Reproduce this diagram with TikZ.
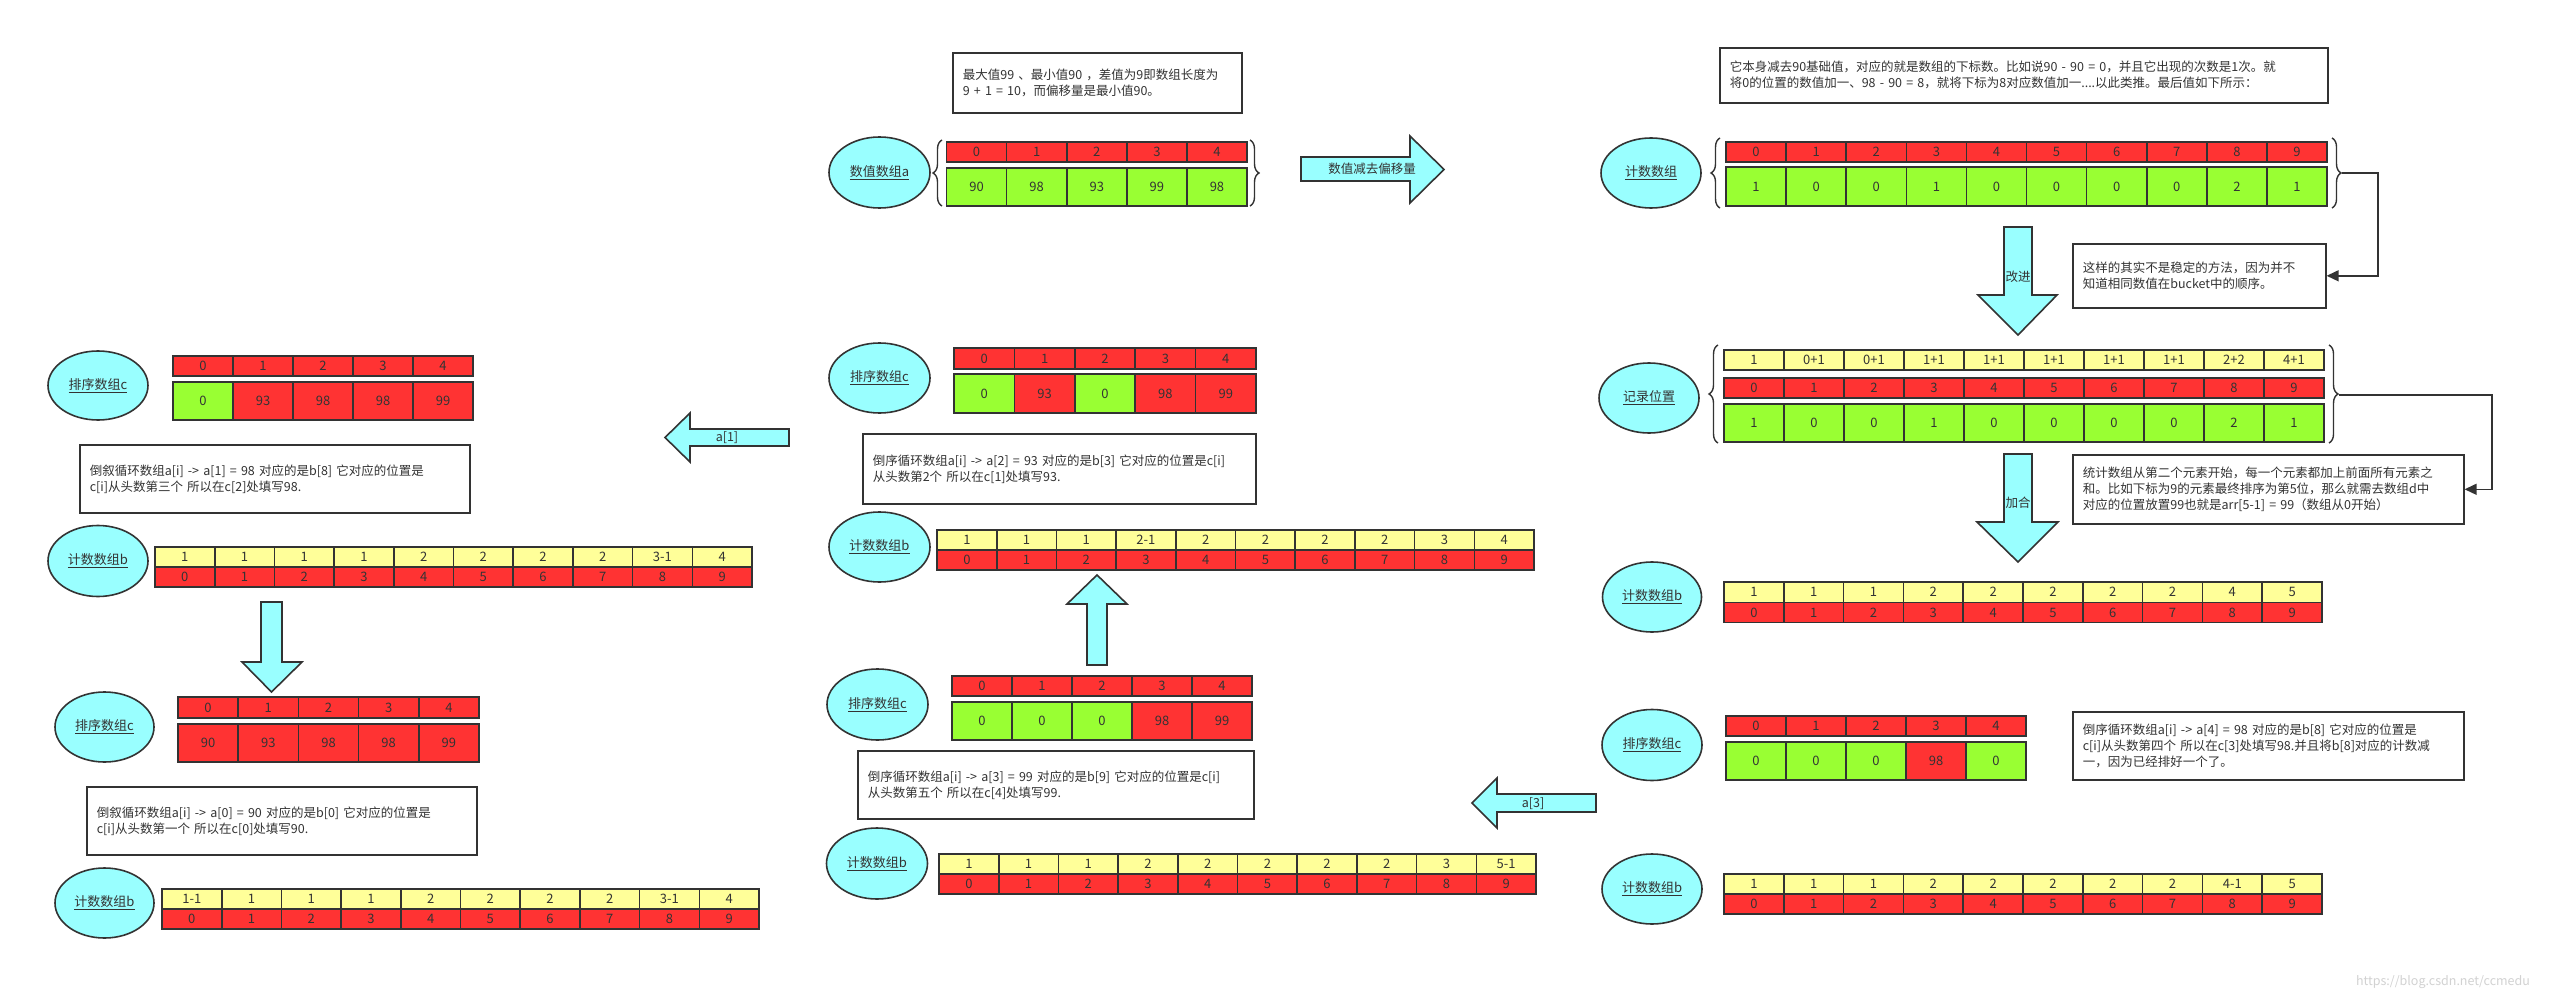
\documentclass[tikz,border=0pt]{standalone}
\usepackage{fontspec}
\setmainfont{Noto Sans CJK SC}
\usetikzlibrary{shapes.geometric,decorations.pathreplacing,arrows.meta}

\definecolor{cellR}{HTML}{FF3333}
\definecolor{cellG}{HTML}{99FF33}
\definecolor{cellY}{HTML}{FFFF99}
\definecolor{blobC}{HTML}{99FFFF}
\definecolor{ink}{HTML}{333333}

\newcommand{\notefont}{\fontsize{12.5}{16}\selectfont}
\newcommand{\cellfont}{\fontsize{13}{15}\selectfont}

% a row of cells, all of one colour
\newcommand{\cellrow}[7]{%
  \foreach \val [count=\i from 0] in {#7}
    \node[cell, fill=#6, minimum width=#4pt, minimum height=#5pt] (#1-\i) at ({#2+(\i+0.5)*#4},{#3+#5/2}) {\val};
}
% a row of cells, colour given per cell
\newcommand{\mixrow}[6]{%
  \foreach \val/\col [count=\i from 0] in {#6}
    \node[cell, fill=\col, minimum width=#4pt, minimum height=#5pt] (#1-\i) at ({#2+(\i+0.5)*#4},{#3+#5/2}) {\val};
}

\begin{document}
\begin{tikzpicture}[x=1pt, y=-1pt,
  cell/.style={draw=ink, line width=1.6pt, inner sep=0pt, outer sep=0pt, text=ink, font=\cellfont},
  blob/.style={ellipse, draw=ink, fill=blobC, line width=1.6pt, inner sep=0pt, text=ink, font=\cellfont},
  notebox/.style={draw=ink, fill=white, line width=1.6pt, align=left, inner xsep=10pt, inner ysep=0pt, anchor=north west, text=ink, font=\notefont},
  blockarrow/.style={draw=ink, fill=blobC, line width=1.6pt, line join=miter},
  bracket/.style={decorate, decoration={brace, amplitude=9pt}, draw=ink, line width=1.4pt},
  conn/.style={draw=ink, line width=1.5pt, -{Triangle[length=12pt,width=11pt]}},
  tag/.style={text=ink, font=\notefont, inner sep=0pt}]

  \fill[white] (0,0) rectangle (2553,1000);
  \useasboundingbox (0,0) rectangle (2553,1000);

  % Draw the value array a
  \node[notebox, minimum width=289pt, minimum height=60pt, text width=269pt] (noteTop) at (952,52)
    {最大值99 、最小值90 ，差值为9即数组长度为\\9 + 1 = 10，而偏移量是最小值90。};
  \node[blob, minimum width=101pt, minimum height=71pt] (arrA) at (879.5,172.5) {\underline{数值数组a}};
  \cellrow{aIdx}{946.5}{142}{60.1}{20}{cellR}{0,1,2,3,4}
  \cellrow{aVal}{946.5}{168}{60.1}{38}{cellG}{90,98,93,99,98}
  \draw[bracket] (942,206) -- (942,140);
  \draw[bracket] (1250,140) -- (1250,206);

  % Draw the shift arrow
  \draw[blockarrow] (1301,157) -- (1410,157) -- (1410,136) -- (1444,169.5) -- (1410,203) -- (1410,181) -- (1301,181) -- cycle;
  \node[tag] (shiftLbl) at (1372,169) {数值减去偏移量};

  % Draw the count array
  \node[notebox, minimum width=608pt, minimum height=55pt, text width=588pt] (noteCount) at (1719,47)
    {它本身减去90基础值，对应的就是数组的下标数。比如说90 - 90 = 0，并且它出现的次数是1次。就\\将0的位置的数值加一、98 - 90 = 8，就将下标为8对应数值加一....以此类推。最后值如下所示：};
  \node[blob, minimum width=100pt, minimum height=70pt] (cnt) at (1651,173) {\underline{计数数组}};
  \cellrow{cIdx}{1726}{142}{60.1}{20}{cellR}{0,1,2,3,4,5,6,7,8,9}
  \cellrow{cVal}{1726}{167}{60.1}{39}{cellG}{1,0,0,1,0,0,0,0,2,1}
  \draw[bracket] (1720,208) -- (1720,138);
  \draw[bracket] (2332,138) -- (2332,208);
  \coordinate (cTip) at (2342,173);

  % improve arrow and remark
  \draw[blockarrow] (2004,227) -- (2032,227) -- (2032,295) -- (2057,295) -- (2018,335) -- (1978,295) -- (2004,295) -- cycle;
  \node[tag] (improveLbl) at (2018,277) {改进};
  \node[notebox, minimum width=253pt, minimum height=64pt, text width=233pt] (noteStable) at (2072,243)
    {这样的其实不是稳定的方法，因为并不\\知道相同数值在bucket中的顺序。};
  \draw[conn] (cTip) -- ++(36,0) |- (noteStable.east);

  % Draw the position record
  \node[blob, minimum width=100pt, minimum height=70pt] (rec) at (1649,398) {\underline{记录位置}};
  \cellrow{rSum}{1724}{350}{60}{20}{cellY}{1,0+1,0+1,1+1,1+1,1+1,1+1,1+1,2+2,4+1}
  \cellrow{rIdx}{1724}{378}{60}{20}{cellR}{0,1,2,3,4,5,6,7,8,9}
  \cellrow{rVal}{1724}{404}{60}{38}{cellG}{1,0,0,1,0,0,0,0,2,1}
  \draw[bracket] (1718,443) -- (1718,345);
  \draw[bracket] (2329,345) -- (2329,443);
  \coordinate (rTip) at (2339,395);
  \node[notebox, minimum width=391pt, minimum height=69pt, text width=371pt] (noteSum) at (2072,454)
    {统计数组从第二个元素开始，每一个元素都加上前面所有元素之\\和。比如下标为9的元素最终排序为第5位，那么就需去数组d中\\对应的位置放置99也就是arr[5-1] = 99（数组从0开始）};
  \draw[conn] (rTip) -- ++(153,0) |- (noteSum.east);

  % add-up arrow
  \draw[blockarrow] (2004,454) -- (2032,454) -- (2032,522) -- (2058,522) -- (2018,562) -- (1977,522) -- (2004,522) -- cycle;
  \node[tag] (sumLbl) at (2018,503) {加合};

  % right column: b, c, b
  \node[blob, minimum width=99pt, minimum height=70pt] (rb1) at (1652,597) {\underline{计数数组b}};
  \cellrow{rb1Cnt}{1724}{582}{59.8}{20.5}{cellY}{1,1,1,2,2,2,2,2,4,5}
  \cellrow{rb1Idx}{1724}{602.5}{59.8}{20}{cellR}{0,1,2,3,4,5,6,7,8,9}
  \node[blob, minimum width=100pt, minimum height=71pt] (rc) at (1652,745) {\underline{排序数组c}};
  \cellrow{rcIdx}{1726}{716}{60}{20}{cellR}{0,1,2,3,4}
  \mixrow{rcVal}{1726}{742}{60}{38}{0/cellG,0/cellG,0/cellG,98/cellR,0/cellG}
  \node[notebox, minimum width=391pt, minimum height=68pt, text width=371pt] (noteR) at (2072,711)
    {倒序循环数组a[i] -> a[4] = 98 对应的是b[8] 它对应的位置是\\c[i]从头数第四个 所以在c[3]处填写98.并且将b[8]对应的计数减\\一，因为已经排好一个了。};
  \node[blob, minimum width=100pt, minimum height=70pt] (rb2) at (1652,889) {\underline{计数数组b}};
  \cellrow{rb2Cnt}{1724}{874}{59.8}{20}{cellY}{1,1,1,2,2,2,2,2,4-1,5}
  \cellrow{rb2Idx}{1724}{894}{59.8}{20}{cellR}{0,1,2,3,4,5,6,7,8,9}

  % a[3] arrow
  \draw[blockarrow] (1596,794) -- (1497,794) -- (1497,778) -- (1472,803) -- (1497,828) -- (1497,812) -- (1596,812) -- cycle;
  \node[tag] (a3Lbl) at (1533,804) {a[3]};

  % middle column: b, c
  \node[blob, minimum width=101pt, minimum height=71pt] (mb2) at (877,863.5) {\underline{计数数组b}};
  \cellrow{mb2Cnt}{939}{854}{59.7}{20}{cellY}{1,1,1,2,2,2,2,2,3,5-1}
  \cellrow{mb2Idx}{939}{874}{59.7}{20}{cellR}{0,1,2,3,4,5,6,7,8,9}
  \node[notebox, minimum width=396pt, minimum height=68pt, text width=376pt] (noteM3) at (857,750)
    {倒序循环数组a[i] -> a[3] = 99 对应的是b[9] 它对应的位置是c[i]\\从头数第五个 所以在c[4]处填写99.};
  \node[blob, minimum width=101pt, minimum height=71pt] (mc2) at (877.5,704.5) {\underline{排序数组c}};
  \cellrow{mc2Idx}{952}{676}{60}{20}{cellR}{0,1,2,3,4}
  \mixrow{mc2Val}{952}{702}{60}{38}{0/cellG,0/cellG,0/cellG,98/cellR,99/cellR}

  % up arrow
  \draw[blockarrow] (1087,665) -- (1087,604) -- (1067,604) -- (1097,575) -- (1127,604) -- (1107,604) -- (1107,665) -- cycle;

  \node[blob, minimum width=101pt, minimum height=70pt] (mb1) at (879.5,547) {\underline{计数数组b}};
  \cellrow{mb1Cnt}{937}{530}{59.7}{20}{cellY}{1,1,1,2-1,2,2,2,2,3,4}
  \cellrow{mb1Idx}{937}{550}{59.7}{20}{cellR}{0,1,2,3,4,5,6,7,8,9}
  \node[notebox, minimum width=393pt, minimum height=70pt, text width=373pt] (noteM2) at (862,433)
    {倒序循环数组a[i] -> a[2] = 93 对应的是b[3] 它对应的位置是c[i]\\从头数第2个 所以在c[1]处填写93.};
  \node[blob, minimum width=101pt, minimum height=70pt] (mc1) at (879.5,378) {\underline{排序数组c}};
  \cellrow{mc1Idx}{954}{348}{60.4}{21}{cellR}{0,1,2,3,4}
  \mixrow{mc1Val}{954}{374}{60.4}{39}{0/cellG,93/cellR,0/cellG,98/cellR,99/cellR}

  % a[1] arrow
  \draw[blockarrow] (789,429) -- (690,429) -- (690,413) -- (665,437.5) -- (690,462) -- (690,446) -- (789,446) -- cycle;
  \node[tag] (a1Lbl) at (727,438) {a[1]};

  % left column: c, b, c, b
  \node[blob, minimum width=100pt, minimum height=69pt] (lc1) at (98,385.5) {\underline{排序数组c}};
  \cellrow{lc1Idx}{173}{356}{60}{20}{cellR}{0,1,2,3,4}
  \mixrow{lc1Val}{173}{382}{60}{38}{0/cellG,93/cellR,98/cellR,98/cellR,99/cellR}
  \node[notebox, minimum width=390pt, minimum height=68pt, text width=370pt] (noteL1) at (79,444)
    {倒叙循环数组a[i] -> a[1] = 98 对应的是b[8] 它对应的位置是\\c[i]从头数第三个 所以在c[2]处填写98.};
  \node[blob, minimum width=100pt, minimum height=71pt] (lb1) at (98,561) {\underline{计数数组b}};
  \cellrow{lb1Cnt}{155}{547}{59.7}{20}{cellY}{1,1,1,1,2,2,2,2,3-1,4}
  \cellrow{lb1Idx}{155}{567}{59.7}{20}{cellR}{0,1,2,3,4,5,6,7,8,9}

  % down arrow
  \draw[blockarrow] (261,602) -- (282,602) -- (282,662) -- (302,662) -- (271.5,692) -- (242,662) -- (261,662) -- cycle;

  \node[blob, minimum width=99pt, minimum height=70pt] (lc2) at (104.5,727) {\underline{排序数组c}};
  \cellrow{lc2Idx}{178}{697}{60.2}{21}{cellR}{0,1,2,3,4}
  \cellrow{lc2Val}{178}{724}{60.2}{38}{cellR}{90,93,98,98,99}
  \node[notebox, minimum width=390pt, minimum height=68pt, text width=370pt] (noteL0) at (86,786)
    {倒叙循环数组a[i] -> a[0] = 90 对应的是b[0] 它对应的位置是\\c[i]从头数第一个 所以在c[0]处填写90.};
  \node[blob, minimum width=99pt, minimum height=70pt] (lb2) at (104.5,903) {\underline{计数数组b}};
  \cellrow{lb2Cnt}{162}{889}{59.7}{20}{cellY}{1-1,1,1,1,2,2,2,2,3-1,4}
  \cellrow{lb2Idx}{162}{909}{59.7}{20}{cellR}{0,1,2,3,4,5,6,7,8,9}

  % watermark
  \node[text=gray!35, font=\notefont, inner sep=0pt] (mark) at (2443,982) {https://blog.csdn.net/ccmedu};

\end{tikzpicture}
\end{document}
